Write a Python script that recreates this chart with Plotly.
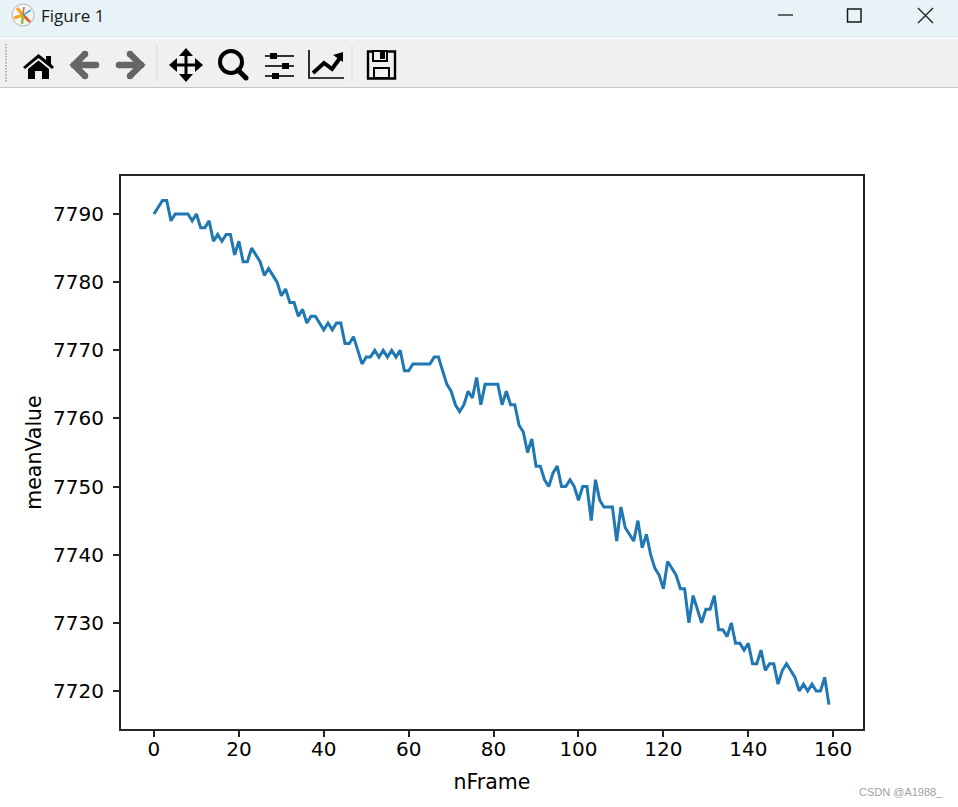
import plotly.graph_objects as go

W, H = 958, 807

mean_value = [
    7790, 7791, 7792, 7792, 7789, 7790, 7790, 7790, 7790, 7789,
    7790, 7788, 7788, 7789, 7786, 7787, 7786, 7787, 7787, 7784,
    7786, 7783, 7783, 7785, 7784, 7783, 7781, 7782, 7781, 7780,
    7778, 7779, 7777, 7777, 7775, 7776, 7774, 7775, 7775, 7774,
    7773, 7774, 7773, 7774, 7774, 7771, 7771, 7772, 7770, 7768,
    7769, 7769, 7770, 7769, 7770, 7769, 7770, 7769, 7770, 7767,
    7767, 7768, 7768, 7768, 7768, 7768, 7769, 7769, 7767, 7765,
    7764, 7762, 7761, 7762, 7764, 7763, 7766, 7762, 7765, 7765,
    7765, 7765, 7762, 7764, 7762, 7762, 7759, 7758, 7755, 7757,
    7753, 7753, 7751, 7750, 7752, 7753, 7750, 7750, 7751, 7750,
    7748, 7750, 7750, 7745, 7751, 7748, 7747, 7747, 7747, 7742,
    7747, 7744, 7743, 7742, 7745, 7741, 7743, 7740, 7738, 7737,
    7735, 7739, 7738, 7737, 7735, 7735, 7730, 7734, 7732, 7730,
    7732, 7732, 7734, 7729, 7729, 7728, 7730, 7727, 7727, 7726,
    7727, 7724, 7724, 7726, 7723, 7724, 7724, 7721, 7723, 7724,
    7723, 7722, 7720, 7721, 7720, 7721, 7720, 7720, 7722, 7718,
]
n_frame = list(range(len(mean_value)))
x_ticks = [0, 20, 40, 60, 80, 100, 120, 140, 160]
y_ticks = [7720, 7730, 7740, 7750, 7760, 7770, 7780, 7790]

LINE = "#1f77b4"
FONT = "DejaVu Sans"
UI_FONT = "Open Sans"
AXIS = "#262626"


def px(x, y):
    return f"{x / W:.5f},{1 - y / H:.5f}"


def path(points, closed=False):
    d = "M" + " L".join(px(x, y) for x, y in points)
    return d + " Z" if closed else d


fig = go.Figure(go.Scatter(x=n_frame, y=mean_value, mode="lines",
                           line=dict(color=LINE, width=3)))


def poly(points, fill="black"):
    fig.add_shape(type="path", path=path(points, True), xref="paper", yref="paper",
                  fillcolor=fill, line=dict(width=0))


def stroke(points, color="black", width=2.0, cap=False):
    fig.add_shape(type="path", path=path(points), xref="paper", yref="paper",
                  line=dict(color=color, width=width))
    if cap:
        r = width / 2
        for x, y in points:
            fig.add_shape(type="circle", xref="paper", yref="paper",
                          x0=(x - r) / W, x1=(x + r) / W,
                          y0=1 - (y + r) / H, y1=1 - (y - r) / H,
                          fillcolor=color, line=dict(width=0))


def rect(x0, y0, x1, y1, fill=None, color=None, width=0):
    fig.add_shape(type="rect", xref="paper", yref="paper",
                  x0=x0 / W, x1=x1 / W, y0=1 - y1 / H, y1=1 - y0 / H,
                  fillcolor=fill, line=dict(color=color, width=width))


def circle(cx, cy, r, fill=None, color=None, width=0):
    fig.add_shape(type="circle", xref="paper", yref="paper",
                  x0=(cx - r) / W, x1=(cx + r) / W,
                  y0=1 - (cy + r) / H, y1=1 - (cy - r) / H,
                  fillcolor=fill, line=dict(color=color, width=width))


# window title bar and toolbar
rect(0, 0, W, 38, fill="#e8f3f8")
rect(0, 39, W, 87, fill="#f0f0f0")
rect(0, 87, W, 88, fill="#c4c4c4")
stroke([(157, 45), (157, 81)], "#d8d8d8", 1)
stroke([(352, 45), (352, 81)], "#d8d8d8", 1)
for y in range(44, 82, 3):
    rect(5, y, 7, y + 1.4, fill="#b0b0b0")

# app logo
circle(23, 15, 11, fill="#f6f6f6", color="#b5b5b5", width=1)
stroke([(23, 15), (17, 8)], "#f5a623", 3)
stroke([(23, 15), (14, 18)], "#f5a623", 3)
stroke([(23, 15), (30, 22)], "#e2603a", 3)
stroke([(23, 15), (24, 7)], "#e2603a", 1.5)
stroke([(23, 15), (22, 24)], "#8cc63f", 2.5)
stroke([(23, 15), (31, 10)], "#4aa3d8", 1.5)

# window buttons
stroke([(778, 15), (793, 15)], "#1a1a1a", 1.3)
rect(847.5, 9, 861, 22, color="#1a1a1a", width=1.5)
stroke([(918, 8), (933, 23)], "#1a1a1a", 1.3)
stroke([(933, 8), (918, 23)], "#1a1a1a", 1.3)

# home
poly([(38.5, 54), (46, 60), (46, 56), (51, 56), (51, 64), (54, 67), (52, 69),
      (38.5, 58), (25, 69), (23, 67)])
poly([(38.5, 60.5), (49, 69), (49, 79), (42, 79), (42, 71), (35, 71), (35, 79), (28, 79), (28, 69)])

# back / forward
for pts in ([(74, 65), (96, 65)], [(85, 54), (74, 65), (85, 76)],
            [(119, 65), (141, 65)], [(130, 54), (141, 65), (130, 76)]):
    stroke(pts, "#666666", 6.5, cap=True)

# move
stroke([(172, 65), (200, 65)], "black", 3)
stroke([(186, 51), (186, 79)], "black", 3)
poly([(186, 48), (179, 56), (193, 56)])
poly([(186, 82), (179, 74), (193, 74)])
poly([(169, 65), (177, 58), (177, 72)])
poly([(203, 65), (195, 58), (195, 72)])

# zoom
circle(231, 62, 11, color="black", width=4)
stroke([(238, 70), (246, 78)], "black", 5, cap=True)

# sliders
for y, k0, k1 in ((56, 270, 277), (66, 282, 289), (76, 272, 279)):
    stroke([(265, y), (294, y)], "black", 1.6)
    rect(k0, y - 3, k1, y + 3, fill="black")

# axes icon
stroke([(309, 50), (309, 78), (344, 78)], "black", 1.6)
stroke([(313, 73), (324, 63), (332, 69), (340, 58)], "black", 4)
poly([(333, 55), (343, 52), (343, 62)])

# save
rect(368, 51.5, 395, 78.5, color="black", width=2.4)
rect(373, 51, 387, 61, color="black", width=2, fill="#f0f0f0")
rect(380, 52, 385, 59, fill="black")
rect(374, 68, 389, 78, color="black", width=2, fill="#f0f0f0")

fig.add_annotation(x=39 / W, y=1 - 16 / H, xref="paper", yref="paper", text="Figure 1",
                   showarrow=False, xanchor="left", yanchor="middle",
                   font=dict(family=UI_FONT, size=17, color="#1a1a1a"))
fig.add_annotation(x=945 / W, y=1 - 791.5 / H, xref="paper", yref="paper", text="CSDN @A1988_",
                   showarrow=False, xanchor="right", yanchor="middle",
                   font=dict(family="Liberation Sans", size=11, color="#a0a0a0"))

axis_style = dict(showline=True, mirror=True, linecolor=AXIS, linewidth=2,
                  showgrid=False, zeroline=False, ticks="outside", ticklen=6,
                  tickwidth=2, tickcolor=AXIS, automargin=False,
                  tickfont=dict(family=FONT, size=20, color="black"))

fig.update_layout(
    width=W, height=H,
    margin=dict(l=0, r=0, t=0, b=0),
    paper_bgcolor="white", plot_bgcolor="white",
    showlegend=False,
    xaxis=dict(axis_style, domain=[121 / W, 863 / W], range=[-7.77, 167.02],
               tickmode="array", tickvals=x_ticks, ticktext=[str(v) for v in x_ticks],
               ticklabelstandoff=-5,
               title=dict(text="nFrame", standoff=15,
                          font=dict(family=FONT, size=20.5, color="black"))),
    yaxis=dict(axis_style, domain=[1 - 729 / H, 1 - 176 / H], range=[7714.42, 7795.58],
               tickmode="array", tickvals=y_ticks, ticktext=[str(v) for v in y_ticks],
               ticklabelstandoff=5,
               title=dict(text="meanValue", standoff=6,
                          font=dict(family=FONT, size=20.5, color="black"))),
)

fig.write_html("out.html", config=dict(displayModeBar=False),
               post_script="document.body.style.margin='0';document.body.style.overflow='hidden';")
